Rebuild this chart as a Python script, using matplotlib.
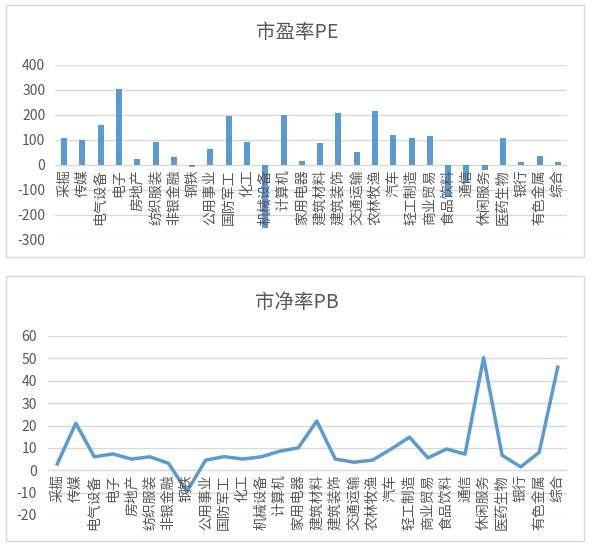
import matplotlib
matplotlib.use('Agg')
import matplotlib.pyplot as plt
from matplotlib.patches import Rectangle

plt.rcParams['font.family'] = ['Noto Sans CJK SC', 'DejaVu Sans']
plt.rcParams['axes.unicode_minus'] = False

industries = ['采掘', '传媒', '电气设备', '电子', '房地产', '纺织服装', '非银金融', '钢铁',
              '公用事业', '国防军工', '化工', '机械设备', '计算机', '家用电器', '建筑材料',
              '建筑装饰', '交通运输', '农林牧渔', '汽车', '轻工制造', '商业贸易', '食品饮料',
              '通信', '休闲服务', '医药生物', '银行', '有色金属', '综合']

pe_values = [109, 101, 161, 303, 25, 93, 33, -9, 65, 197, 93, -251, 201, 17, 89,
             209, 53, 217, 121, 109, 117, -127, -72, -22, 109, 13, 37, 13]

pb_values = [2.8, 21, 6, 7.3, 5, 6, 3.1, -9.5, 4.5, 6.1, 5, 6, 8.5, 10, 22,
             5, 3.6, 4.5, 9.4, 14.8, 5.5, 9.5, 7.2, 50.3, 6.7, 1.5, 8, 46]

pe_ticks = [-300, -200, -100, 0, 100, 200, 300, 400]
pb_ticks = [-20, -10, 0, 10, 20, 30, 40, 50, 60]

W, H = 597, 547
blue = '#5B9BD5'
grid_c = '#D9D9D9'
text_c = '#595959'

fig = plt.figure(figsize=(W / 100, H / 100), dpi=100)


def px_axes(x0, y_top, x1, y_bot):
    return fig.add_axes([x0 / W, 1 - y_bot / H, (x1 - x0) / W, (y_bot - y_top) / H])


def frame(x0, y0, x1, y1):
    fig.patches.append(Rectangle((x0 / W, 1 - y1 / H), (x1 - x0) / W, (y1 - y0) / H,
                                 transform=fig.transFigure, fill=False,
                                 edgecolor=grid_c, linewidth=1))


def style(ax, ticks, pad):
    ax.set_ylim(ticks[0], ticks[-1])
    ax.set_yticks(ticks)
    ax.set_xlim(-0.5, len(industries) - 0.5)
    ax.set_xticks([])
    for s in ax.spines.values():
        s.set_visible(False)
    ax.grid(axis='y', color=grid_c, linewidth=1)
    ax.set_axisbelow(True)
    ax.tick_params(axis='y', length=0, pad=pad, labelsize=10, labelcolor=text_c)
    # category labels hang just below the zero line, like Excel does
    for i, name in enumerate(industries):
        ax.annotate(name, (i, 0), xytext=(0, -3), textcoords='offset points',
                    rotation=90, ha='center', va='top', fontsize=10, color=text_c)


# top: PE bar chart
frame(6, 5, 584, 257)
ax1 = px_axes(55, 65, 567, 240)
x = list(range(len(industries)))
ax1.bar(x, pe_values, width=0.33, color=blue, zorder=2)
style(ax1, pe_ticks, 7)
fig.text(297 / W, 1 - 32 / H, '市盈率PE', ha='center', va='center', fontsize=14, color=text_c)

# bottom: PB line chart
frame(6, 276, 584, 541)
ax2 = px_axes(48, 336, 567, 515)
ax2.plot(x, pb_values, color=blue, linewidth=2.5, zorder=3)
style(ax2, pb_ticks, 8)
fig.text(297 / W, 1 - 302 / H, '市净率PB', ha='center', va='center', fontsize=14, color=text_c)

fig.savefig('out.png', dpi=100)
